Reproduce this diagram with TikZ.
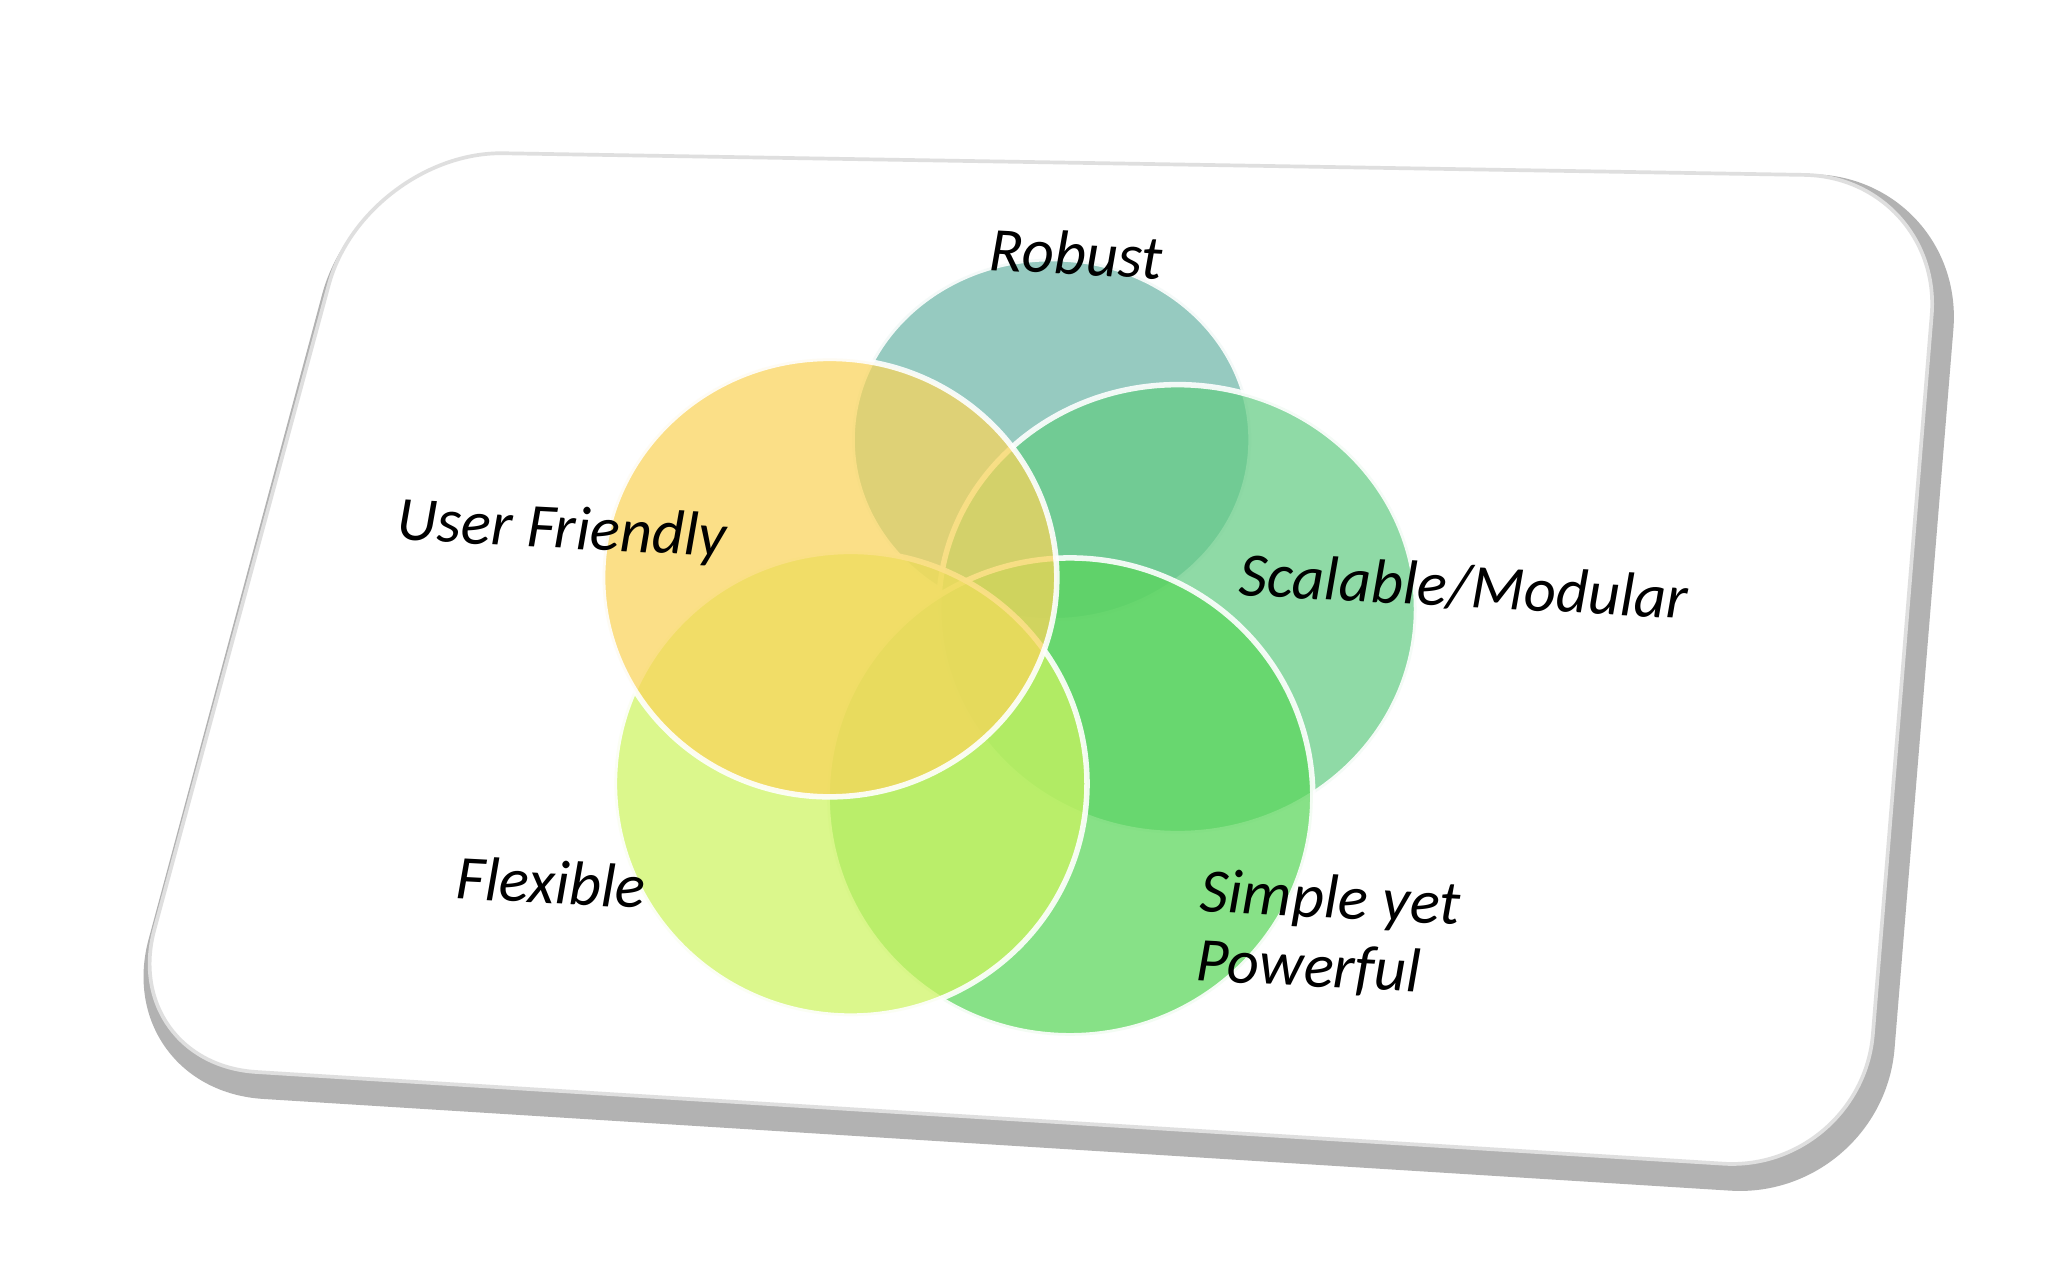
\documentclass[tikz,border=0pt]{standalone}
\usepackage{fontspec}
\setmainfont{Carlito}
\begin{document}
\begin{tikzpicture}[x=0.01cm,y=-0.01cm,
  circ/.style={fill opacity=0.72,draw=white,line width=1.2pt,draw opacity=0.9},
  lab/.style={font=\fontsize{13.5}{15}\selectfont\itshape,rotate=-3,align=left}]
\useasboundingbox (0,0) rectangle (1560,968);
\fill[white] (0,0) rectangle (1560,968);
% board shadow
\draw[gray!60,line width=6pt,rounded corners=30pt] (283,125) -- (1486,145) -- (1424,903) -- (96,820) -- cycle;
\draw[gray!25,fill=white,line width=0.8pt,rounded corners=30pt] (278,115) -- (1480,135) -- (1418,893) -- (90,810) -- cycle;
% circles
\fill[circ,fill={rgb,255:red,110;green,182;blue,168}] (801,335) ellipse (152 and 138);
\fill[circ,fill={rgb,255:red,100;green,204;blue,132}] (897,464) ellipse (182 and 171);
\fill[circ,fill={rgb,255:red,90;green,214;blue,90}] (815,607) ellipse (185 and 182);
\fill[circ,fill={rgb,255:red,206;green,244;blue,96}] (648,597) ellipse (180 and 177);
\fill[circ,fill={rgb,255:red,250;green,212;blue,90}] (632,440) ellipse (173 and 167);
% labels
\node[lab] (r) at (820,193) {Robust};
\node[lab] (u) at (428,405) {User Friendly};
\node[lab] (s) at (1115,447) {Scalable/Modular};
\node[lab] (f) at (420,672) {Flexible};
\node[lab] (p) at (1012,712) {Simple yet\\Powerful};
\end{tikzpicture}
\end{document}
